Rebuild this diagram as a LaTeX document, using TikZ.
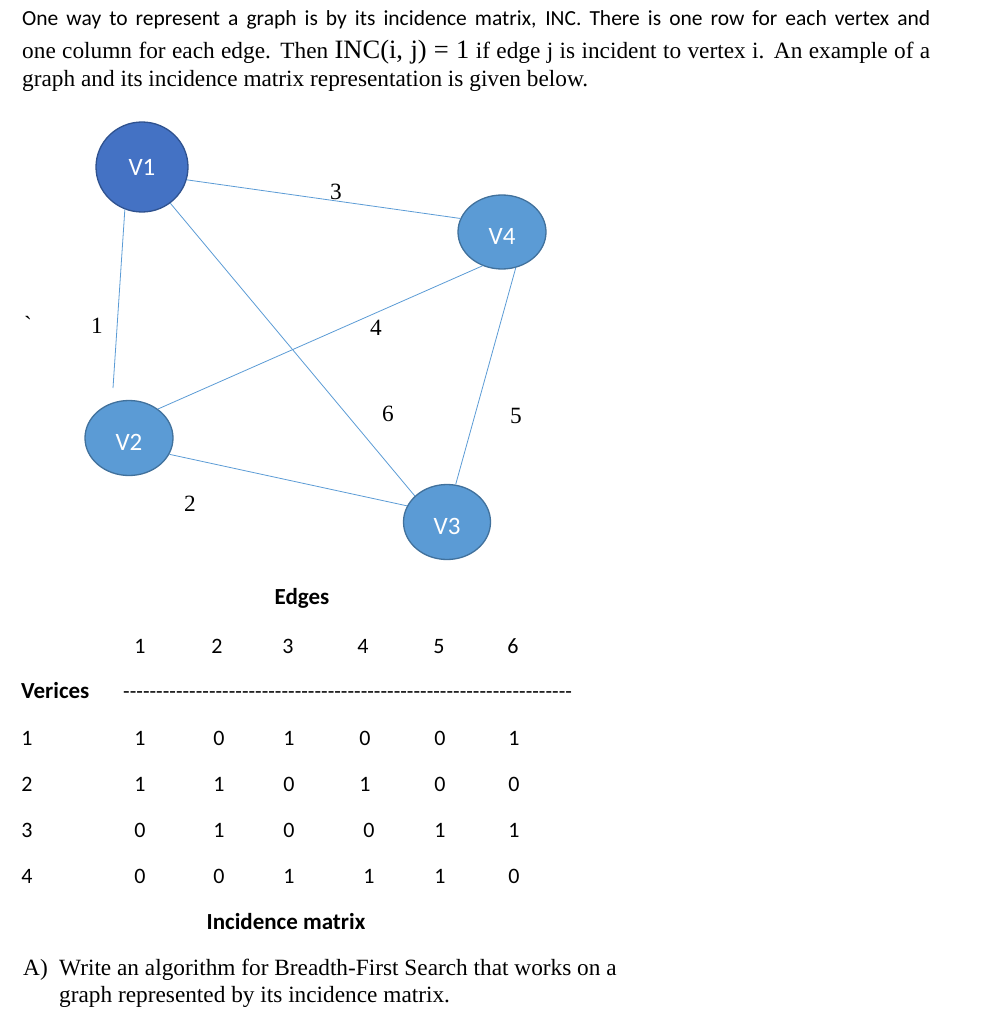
\documentclass[tikz,border=0pt]{standalone}
\usepackage{fontspec}
\setmainfont{Liberation Serif}
\newfontfamily\calibri{Carlito}
\newfontfamily\rawtimes[Ligatures=TeXOff]{Liberation Serif}
\usetikzlibrary{shapes.geometric}

\definecolor{vdark}{HTML}{4472C4}
\definecolor{vdarkline}{HTML}{2F528F}
\definecolor{vlight}{HTML}{5B9BD5}
\definecolor{vlightline}{HTML}{41719C}
\definecolor{edgeblue}{HTML}{5B9BD5}

\newcommand{\bodyfont}{\calibri\fontsize{21.5}{26}\selectfont}
\newcommand{\cellfont}{\calibri\fontsize{22}{26}\selectfont}
\newcommand{\headfont}{\calibri\bfseries\fontsize{23}{27}\selectfont}
\newcommand{\timesfont}{\fontsize{23.3}{27}\selectfont}

\begin{document}
\begin{tikzpicture}[x=1pt, y=-1pt,
    vert/.style={ellipse, draw=vlightline, fill=vlight, line width=1.3pt, inner sep=0pt,
      text=white, text height=25pt, text depth=0pt, font=\calibri\fontsize{25}{28}\selectfont},
    edge/.style={draw=edgeblue, line width=0.8pt},
    elabel/.style={font=\timesfont, inner sep=0pt},
    cell/.style={font=\cellfont, anchor=base, inner sep=0pt},
    line/.style={anchor=base west, inner sep=0pt}]
			\useasboundingbox (0,0) rectangle (984,1024);

			% Đoạn văn mở đầu
			\node[line, font=\bodyfont] (intro1) at (22,26) {\makebox[908pt][s]{One way to represent a graph is by its incidence matrix, INC. There is one row for each vertex and}};
			\node[line, font=\timesfont] (intro2) at (22,59) {\makebox[908pt][s]{one column for each edge. Then {\fontsize{26.5}{30}\selectfont INC(i, j) = 1} if edge j is incident to vertex i. An example of a}};
			\node[line, font=\timesfont] (intro3) at (22,87) {graph and its incidence matrix representation is given below.};

			% Các đỉnh của đồ thị
			\node[vert, fill=vdark, draw=vdarkline, text height=17pt, minimum width=92pt, minimum height=90pt] (v1) at (142,167) {V1};
			\node[vert, minimum width=88pt, minimum height=74pt] (v4) at (502,232) {V4};
			\node[vert, minimum width=88pt, minimum height=75pt] (v2) at (129,438) {V2};
			\node[vert, minimum width=87pt, minimum height=75pt] (v3) at (447,522) {V3};
			\coordinate (e1end) at (113,388);

			% Các cạnh
			\draw[edge] (v1.248) -- (e1end);
			\draw[edge] (v2.-22) -- (v3.158);
			\draw[edge] (v1.-16) -- (v4.162);
			\draw[edge] (v2.45) -- (v4.240);
			\draw[edge] (v4.291) -- (v3.77);
			\draw[edge] (v1.-52) -- (v3.141);

			% Nhãn các cạnh
			\node[elabel] (l1) at (97,326) {1};
			\node[elabel] (l2) at (190,504) {2};
			\node[elabel] (l3) at (336,192) {3};
			\node[elabel] (l4) at (376,328) {4};
			\node[elabel] (l5) at (516,416) {5};
			\node[elabel] (l6) at (388,414) {6};
			\node[elabel, font=\rawtimes\timesfont] (tick) at (28,324) {`};

			% Ma trận liên thuộc
			\node[cell, font=\headfont] (edges) at (302,604) {Edges};
			\foreach \c/\x in {1/140, 2/217, 3/288, 4/363, 5/439, 6/513}
				\node[cell] (h\c) at (\x,653) {\c};
			\node[line, font=\headfont] (verices) at (21,698) {Verices};
			\node[line, font=\bodyfont] (rule) at (123,698) {\hbox to 449pt{\xleaders\hbox{-}\hfill}};
			\foreach \r/\y in {1/745, 2/791, 3/837, 4/883}
				\node[cell] (r\r) at (27,\y) {\r};
			\foreach \r/\y/\a/\b/\cc/\d/\dx/\e/\f in {1/745/1/0/1/0/365/0/1, 2/791/1/1/0/1/365/0/0, 3/837/0/1/0/0/369/1/1, 4/883/0/0/1/1/369/1/0}{
				\node[cell] (m\r-1) at (140,\y) {\a};
				\node[cell] (m\r-2) at (219,\y) {\b};
				\node[cell] (m\r-3) at (289,\y) {\cc};
				\node[cell] (m\r-4) at (\dx,\y) {\d};
				\node[cell] (m\r-5) at (440,\y) {\e};
				\node[cell] (m\r-6) at (514,\y) {\f};
			}
			\node[cell, font=\headfont] (caption) at (286,929) {Incidence matrix};

			% Câu hỏi
			\node[line, font=\timesfont] (qa) at (23,975) {A)};
			\node[line, font=\timesfont] (q1) at (59,975) {Write an algorithm for Breadth-First Search that works on a};
			\node[line, font=\timesfont] (q2) at (59,1002) {graph represented by its incidence matrix.};
		\end{tikzpicture}
\end{document}
